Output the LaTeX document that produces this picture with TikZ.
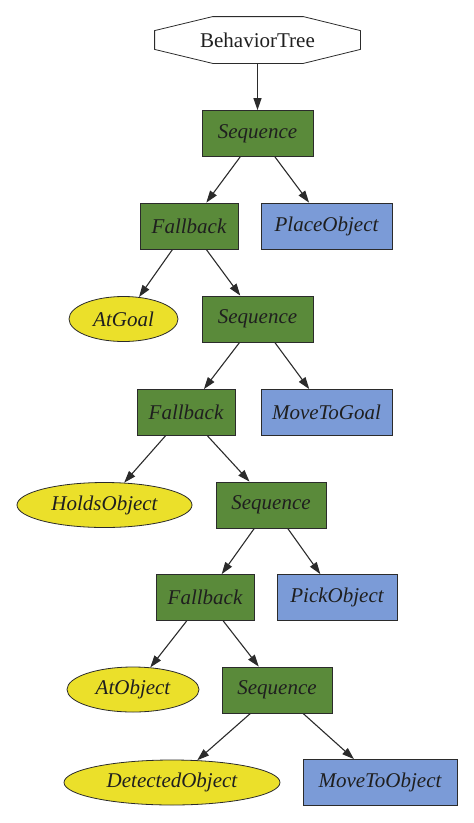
\documentclass[tikz,border=0pt]{standalone}
\usepackage{fontspec}
\setmainfont{Liberation Serif}
\usetikzlibrary{shapes.geometric}
\usetikzlibrary{arrows.meta}

\definecolor{seqgreen}{HTML}{5A8A3A}
\definecolor{actblue}{HTML}{7B9BD7}
\definecolor{condyellow}{HTML}{EBE02A}
\definecolor{edgegray}{HTML}{2B2B2B}

\begin{document}
\begin{tikzpicture}[x=1pt,y=-1pt,
    every node/.style={font=\fontsize{21}{24}\selectfont\itshape, text=black!88,
        draw=edgegray, line width=0.8pt, inner sep=0pt},
    control/.style={rectangle, fill=seqgreen, minimum height=46pt},
    action/.style={rectangle, fill=actblue, minimum height=46pt},
    condition/.style={ellipse, fill=condyellow, minimum height=45pt},
    edge/.style={draw=edgegray, line width=1.1pt, -{Triangle[length=12pt,width=8pt]}}]
    \useasboundingbox (0,0) rectangle (474,823);
    % root
    \node[draw=none, font=\fontsize{21}{24}\selectfont, minimum width=205pt, minimum height=46pt]
        (bt) at (257.5,40) {BehaviorTree};
    \draw[draw=edgegray, line width=0.8pt] ([xshift=58pt]bt.north west) -- ([xshift=-57pt]bt.north east)
        -- ([yshift=-14pt]bt.north east) -- ([yshift=14pt]bt.south east)
        -- ([xshift=-57pt]bt.south east) -- ([xshift=58pt]bt.south west)
        -- ([yshift=14pt]bt.south west) -- ([yshift=-14pt]bt.north west) -- cycle;
    % tree
    \node[control, minimum width=111pt] (seq1) at (257.5,133.5) {Sequence};
    \node[control, minimum width=98pt] (fb1) at (189,226) {Fallback};
    \node[action, minimum width=131pt] (place) at (326.5,226) {PlaceObject};
    \node[condition, minimum width=109pt] (atgoal) at (123.5,319) {AtGoal};
    \node[control, minimum width=111pt] (seq2) at (257.5,319) {Sequence};
    \node[control, minimum width=98pt] (fb2) at (186,412.5) {Fallback};
    \node[action, minimum width=131pt] (movegoal) at (326.5,412.5) {MoveToGoal};
    \node[condition, minimum width=175pt] (holds) at (104.5,505) {HoldsObject};
    \node[control, minimum width=110pt] (seq3) at (271,505) {Sequence};
    \node[control, minimum width=98pt] (fb3) at (205,597.5) {Fallback};
    \node[action, minimum width=120pt] (pick) at (337,597.5) {PickObject};
    \node[condition, minimum width=132pt] (atobject) at (133,689.5) {AtObject};
    \node[control, minimum width=110pt] (seq4) at (277,690) {Sequence};
    \node[condition, minimum width=216pt] (detected) at (172,782.5) {DetectedObject};
    \node[action, minimum width=154pt] (moveobject) at (380,782.5) {MoveToObject};
    \foreach \a/\b in {bt/seq1, seq1/fb1, seq1/place, fb1/atgoal, fb1/seq2,
        seq2/fb2, seq2/movegoal, fb2/holds, fb2/seq3, seq3/fb3, seq3/pick,
        fb3/atobject, fb3/seq4, seq4/detected, seq4/moveobject} {
        \draw[edge] (\a) -- (\b);
    }
\end{tikzpicture}
\end{document}
